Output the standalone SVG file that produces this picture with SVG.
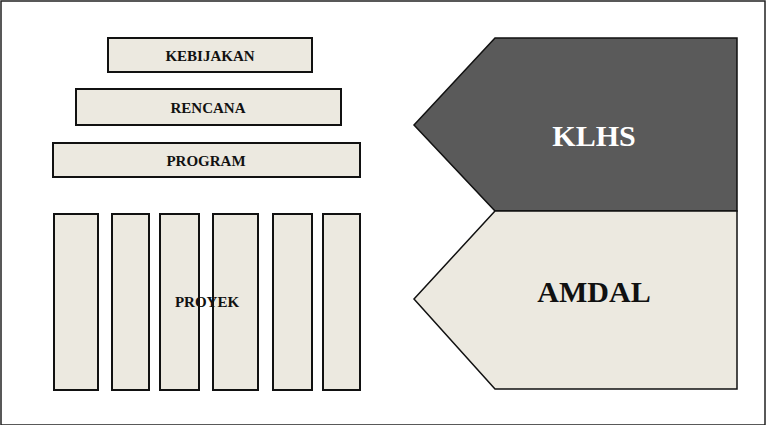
<svg xmlns="http://www.w3.org/2000/svg" width="768" height="425" viewBox="0 0 768 425">
<style>
.box{fill:#ece9e0;stroke:#111;stroke-width:2}
.lbl{font-family:"Liberation Serif",serif;font-weight:bold;font-size:15px;fill:#111;text-anchor:middle}
.big{font-family:"Liberation Serif",serif;font-weight:bold;font-size:30px;text-anchor:middle}
</style>
<rect x="0" y="0" width="768" height="425" fill="#fff"/>
<rect x="1" y="1" width="764" height="424" fill="none" stroke="#222" stroke-width="1.5"/>
<g id="kebijakan"><rect class="box" x="108" y="38" width="204" height="34"/><text class="lbl" x="210" y="61">KEBIJAKAN</text></g>
<g id="rencana"><rect class="box" x="76" y="89" width="265" height="36"/><text class="lbl" x="208" y="113">RENCANA</text></g>
<g id="program"><rect class="box" x="53" y="143" width="307" height="34"/><text class="lbl" x="206" y="166">PROGRAM</text></g>
<g id="proyek">
<rect class="box" x="54" y="214" width="44" height="176"/>
<rect class="box" x="112" y="214" width="37" height="176"/>
<rect class="box" x="160" y="214" width="39" height="176"/>
<rect class="box" x="213" y="214" width="45" height="176"/>
<rect class="box" x="273" y="214" width="39" height="176"/>
<rect class="box" x="323" y="214" width="37" height="176"/>
<text class="lbl" x="207" y="307">PROYEK</text>
</g>
<g id="klhs"><polygon points="495,38 737,38 737,211 495,211 414,125" fill="#5a5a5a" stroke="#111" stroke-width="1.5"/><text class="big" x="594" y="146" fill="#fff">KLHS</text></g>
<g id="amdal"><polygon points="495,211 737,211 737,389 495,389 414,299" fill="#ece9e0" stroke="#111" stroke-width="1.5"/><text class="big" x="594" y="302" fill="#111">AMDAL</text></g>
<g id="connectors"></g>
</svg>
